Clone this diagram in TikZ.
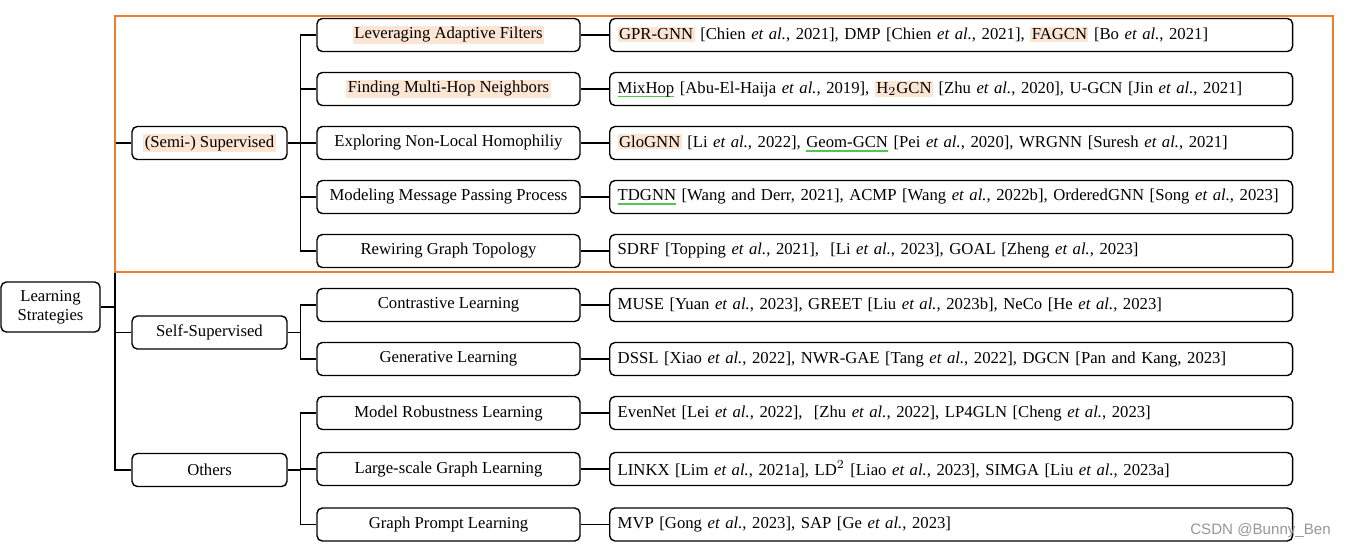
\documentclass[tikz,border=0pt]{standalone}
\usepackage{fontspec}
\setmainfont{Liberation Serif}
\newfontfamily\wmfont{Liberation Sans}
\usepackage{xcolor}
\usepackage{tikz}
\usetikzlibrary{positioning,calc}

\definecolor{frameorange}{RGB}{237,125,49}
\definecolor{hlpeach}{RGB}{252,229,211}
\definecolor{ulgreen}{RGB}{80,200,80}
\definecolor{wmgray}{RGB}{150,150,150}

\newcommand\etal{\textit{et al.}}
\newcommand\hl[1]{{\setlength\fboxsep{0.8pt}\colorbox{hlpeach}{#1}}}
\newcommand\gul[1]{\leavevmode\setbox0\hbox{#1}\rlap{\color{ulgreen}\rule[-2.4pt]{\wd0}{0.9pt}}\box0\relax}

\begin{document}
\begin{tikzpicture}[x=0.02cm, y=-0.02cm,
    font=\fontsize{9.5}{11}\selectfont,
    tree/.style={line width=0.8pt},
    box/.style={draw, line width=0.8pt, rounded corners=3pt, inner sep=0pt},
    rootbox/.style={box, minimum width=1.98cm, minimum height=1cm, align=center},
    midbox/.style={box, minimum width=3.1cm, minimum height=0.66cm},
    catbox/.style={box, minimum width=5.26cm, minimum height=0.66cm},
    refbox/.style={box, anchor=west, minimum height=0.66cm, text width=13.34cm,
        inner xsep=0.16cm, align=left}]
    \useasboundingbox (0,0) rectangle (1349,549);

    % root and first level
    \node[rootbox] (root) at (50.5,307) {Learning\\Strategies};
    \node[midbox] (semi) at (209.5,143) {\hl{(Semi-) Supervised}};
    \node[midbox] (self) at (209.5,332.5) {Self-Supervised};
    \node[midbox] (others) at (209.5,470) {Others};

    % second and third level
    \foreach \i/\y/\lab/\refs in {
        1/35/{\hl{Leveraging Adaptive Filters}}/{\hl{GPR-GNN} [Chien \etal, 2021], DMP [Chien \etal, 2021], \hl{FAGCN} [Bo \etal, 2021]},
        2/89/{\hl{Finding Multi-Hop Neighbors}}/{\gul{MixHop} [Abu-El-Haija \etal, 2019], \hl{H$_2$GCN} [Zhu \etal, 2020], U-GCN [Jin \etal, 2021]},
        3/143/{Exploring Non-Local Homophiliy}/{\hl{GloGNN} [Li \etal, 2022], \gul{Geom-GCN} [Pei \etal, 2020], WRGNN [Suresh \etal, 2021]},
        4/197/{Modeling Message Passing Process}/{\gul{TDGNN} [Wang and Derr, 2021], ACMP [Wang \etal, 2022b], OrderedGNN [Song \etal, 2023]},
        5/251/{Rewiring Graph Topology}/{SDRF [Topping \etal, 2021], \ [Li \etal, 2023], GOAL [Zheng \etal, 2023]},
        6/305/{Contrastive Learning}/{MUSE [Yuan \etal, 2023], GREET [Liu \etal, 2023b], NeCo [He \etal, 2023]},
        7/359/{Generative Learning}/{DSSL [Xiao \etal, 2022], NWR-GAE [Tang \etal, 2022], DGCN [Pan and Kang, 2023]},
        8/413/{Model Robustness Learning}/{EvenNet [Lei \etal, 2022], \ [Zhu \etal, 2022], LP4GLN [Cheng \etal, 2023]},
        9/469/{Large-scale Graph Learning}/{LINKX [Lim \etal, 2021a], LD$^2$ [Liao \etal, 2023], SIMGA [Liu \etal, 2023a]},
        10/524.5/{Graph Prompt Learning}/{MVP [Gong \etal, 2023], SAP [Ge \etal, 2023]}} {
        \node[catbox] (cat\i) at (448.5,\y) {\lab};
        \node[refbox] (ref\i) at (609,\y) {\refs};
        \draw[tree] (cat\i.east) -- (ref\i.west);
    }

    % branches
    \foreach \c in {semi,self,others}
        \draw[tree] (root.east) -- ++(14.5,0) |- (\c.west);
    \foreach \i in {1,...,5}
        \draw[tree] (semi.east) -- ++(13,0) |- (cat\i.west);
    \foreach \i in {6,7}
        \draw[tree] (self.east) -- ++(13,0) |- (cat\i.west);
    \foreach \i in {8,9,10}
        \draw[tree] (others.east) -- ++(13,0) |- (cat\i.west);

    % highlighted group
    \draw[frameorange, line width=1.6pt] (115,16) rectangle (1333,272);

    \node[anchor=east, text=wmgray, font=\wmfont\fontsize{8.6}{10}\selectfont] (mark) at (1337,531) {CSDN @Bunny\_Ben};
\end{tikzpicture}
\end{document}
